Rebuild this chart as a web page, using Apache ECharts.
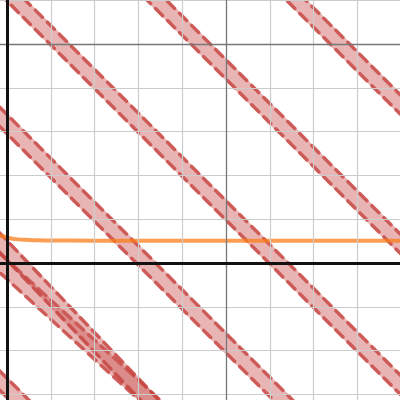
<!DOCTYPE html>
<html lang="en">
<head>
<meta charset="UTF-8">
<title>graph</title>
<script src="https://cdn.jsdelivr.net/npm/echarts@6/dist/echarts.min.js"></script>
<style>body{margin:0;background:#fff}</style>
</head>
<body>
<div id="main" style="width: 400px;height:400px;"></div>
<script>
  // strips y = slope*x + c (centre lines), half width in y units
  const stripIntercepts = [-2.85, -0.15, 0.29, 3.17, 6.2, 9.42, 12.6];
  const stripSlopes = [-1, -0.915, -1.05, -1, -1, -1, -1];
  const stripHalf = 0.22;
  // orange curve
  const curveX = [-0.2, -0.1, 0, 0.1, 0.2, 0.4, 0.7, 1, 2, 4, 6, 9.2];
  const curveY = [0.63, 0.61, 0.58, 0.56, 0.545, 0.53, 0.52, 0.515, 0.51, 0.51, 0.51, 0.51];
  const xTicks = [1, 2, 3, 4, 6, 7, 8];
  const yTicks = [-3, -2, -1, 1, 2, 3, 4, 6];
  const xEnds = [-1, 10];

  const myChart = echarts.init(document.getElementById('main'));
  const unit = 43.8;
  const pink = 'rgba(205,90,88,0.45)';
  const red = 'rgba(199,68,64,0.8)';
  const series = [];
  stripIntercepts.forEach((c, i) => {
    const m = stripSlopes[i];
    const pts = off => xEnds.map(x => [x, m * x + c + off]);
    series.push({type: 'line', data: pts(0), symbol: 'none', silent: true,
      lineStyle: {color: pink, width: 16}});
    [-stripHalf, stripHalf].forEach(o => series.push({type: 'line', data: pts(o), symbol: 'none', silent: true,
      lineStyle: {color: red, width: 3.5, type: [10, 7], cap: 'round'}}));
  });
  series.push({type: 'line', data: curveX.map((x, i) => [x, curveY[i]]), symbol: 'none', smooth: true,
    lineStyle: {color: 'rgba(250,126,25,0.75)', width: 4}});
  const vline = (x, col, w) => ({xAxis: x, lineStyle: {color: col, width: w, type: 'solid'}});
  const hline = (y, col, w) => ({yAxis: y, lineStyle: {color: col, width: w, type: 'solid'}});
  const gridLines = [].concat(
    xTicks.map(x => vline(x, '#ccc', 1.2)),
    yTicks.map(y => hline(y, '#ccc', 1.2)),
    [vline(5, '#777', 1.3), hline(5, '#777', 1.3), vline(0, '#111', 3), hline(0, '#111', 3)]);
  series.unshift({type: 'line', data: [], markLine: {silent: true, symbol: 'none', label: {show: false},
    animation: false, data: gridLines}});

  const option = {
    animation: false,
    grid: {left: 0, top: 0, right: 0, bottom: 0},
    xAxis: {type: 'value', min: -7 / unit, max: 393 / unit, axisLine: {show: false}, axisTick: {show: false},
      axisLabel: {show: false}, splitLine: {show: false}},
    yAxis: {type: 'value', min: -137 / unit, max: 263 / unit, axisLine: {show: false}, axisTick: {show: false},
      axisLabel: {show: false}, splitLine: {show: false}},
    series: series
  };
  myChart.setOption(option);
</script>
</body>
</html>
